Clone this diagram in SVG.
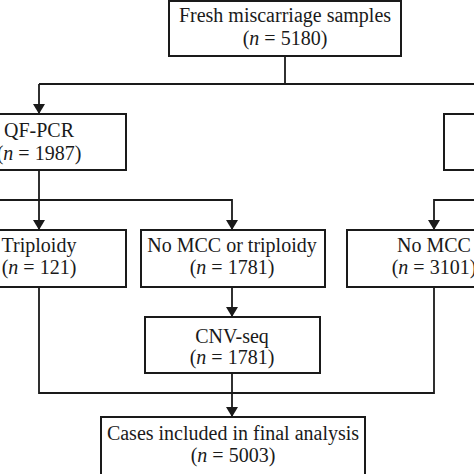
<svg xmlns="http://www.w3.org/2000/svg" width="474" height="474" viewBox="0 0 474 474">
<style>
.box{fill:#fff;stroke:#1a1a1a;stroke-width:2}
.ln{fill:none;stroke:#1a1a1a;stroke-width:1.8}
text{font-family:"Liberation Serif","Times New Roman",serif;font-size:20px;fill:#1a1a1a;text-anchor:middle}
.i{font-style:italic}
</style>
<defs>
<marker id="ah" markerUnits="userSpaceOnUse" markerWidth="11" markerHeight="12" refX="10" refY="6" orient="auto" viewBox="0 0 10 12">
<path d="M0,0 L10,6 L0,12 z" fill="#1a1a1a"/>
</marker>
</defs>
<rect width="474" height="474" fill="#fff"/>
<g id="connectors">
<path class="ln" d="M285,56 V84"/>
<path class="ln" d="M39,84 H476"/>
<path class="ln" d="M39,84 V114" marker-end="url(#ah)"/>
<path class="ln" d="M39,170 V230" marker-end="url(#ah)"/>
<path class="ln" d="M-2,200 H232 V230" marker-end="url(#ah)"/>
<path class="ln" d="M476,200 H434 V230" marker-end="url(#ah)"/>
<path class="ln" d="M232,287 V317" marker-end="url(#ah)"/>
<path class="ln" d="M39,287 V393 H434 V287"/>
<path class="ln" d="M232,373 V417" marker-end="url(#ah)"/>
</g>
<g id="fresh">
<rect class="box" x="169" y="1" width="232" height="55"/>
<text x="285" y="22">Fresh miscarriage samples</text>
<text x="285" y="45">(<tspan class="i">n</tspan> = 5180)</text>
</g>
<g id="qfpcr">
<rect class="box" x="-60" y="114" width="186" height="56"/>
<text x="39" y="137">QF-PCR</text>
<text x="39" y="160">(<tspan class="i">n</tspan> = 1987)</text>
</g>
<g id="right-top">
<rect class="box" x="444" y="114" width="120" height="56"/>
</g>
<g id="triploidy">
<rect class="box" x="-60" y="230" width="186" height="57"/>
<text x="39" y="252">Triploidy</text>
<text x="39" y="274">(<tspan class="i">n</tspan> = 121)</text>
</g>
<g id="nomcc-trip">
<rect class="box" x="141" y="230" width="184" height="57"/>
<text x="232" y="252">No MCC or triploidy</text>
<text x="232" y="274">(<tspan class="i">n</tspan> = 1781)</text>
</g>
<g id="nomcc">
<rect class="box" x="347" y="230" width="174" height="57"/>
<text x="434" y="252">No MCC</text>
<text x="434" y="274">(<tspan class="i">n</tspan> = 3101)</text>
</g>
<g id="cnvseq">
<rect class="box" x="145" y="317" width="175" height="56"/>
<text x="232" y="343">CNV-seq</text>
<text x="232" y="364">(<tspan class="i">n</tspan> = 1781)</text>
</g>
<g id="final">
<rect class="box" x="101" y="417" width="264" height="70"/>
<text x="233" y="440">Cases included in final analysis</text>
<text x="233" y="462">(<tspan class="i">n</tspan> = 5003)</text>
</g>
</svg>
